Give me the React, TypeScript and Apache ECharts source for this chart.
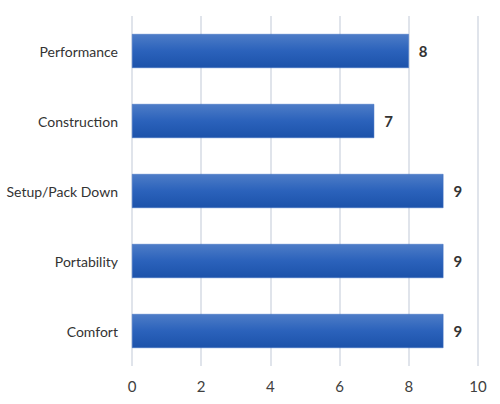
import React, { useEffect, useRef } from 'react';
import * as echarts from 'echarts';

const categories = ['Comfort', 'Portability', 'Setup/Pack Down', 'Construction', 'Performance'];
const scores = [9, 9, 9, 7, 8];
const axisTicks = [0, 2, 4, 6, 8, 10];

function App() {
  const chartRef = useRef<HTMLDivElement | null>(null);

  useEffect(() => {
    if (!chartRef.current) return undefined;
    const chart = echarts.init(chartRef.current, null, { renderer: 'svg' });

    const barColor = new echarts.graphic.LinearGradient(0, 0, 0, 1, [
      { offset: 0, color: '#4d7cc7' },
      { offset: 0.5, color: '#2b62bb' },
      { offset: 1, color: '#1c52aa' },
    ]);

    chart.setOption({
      animation: false,
      textStyle: { fontFamily: 'Lato, "Open Sans", sans-serif' },
      grid: { left: 132, right: 22, top: 16, bottom: 38, containLabel: false },
      xAxis: {
        type: 'value',
        min: axisTicks[0],
        max: axisTicks[axisTicks.length - 1],
        interval: 2,
        axisLine: { show: false },
        axisTick: { show: false },
        axisLabel: { color: '#404040', fontSize: 15, margin: 12 },
        splitLine: { show: true, lineStyle: { color: '#d6dbe5', width: 1.5 } },
      },
      yAxis: {
        type: 'category',
        data: categories,
        axisLine: { show: false },
        axisTick: { show: false },
        axisLabel: { color: '#333333', fontSize: 14, margin: 14 },
      },
      series: [
        {
          type: 'bar',
          data: scores,
          barWidth: 34,
          itemStyle: { color: barColor, borderColor: '#3a6cc0', borderWidth: 0.5 },
          label: {
            show: true,
            position: 'right',
            distance: 10,
            color: '#333333',
            fontSize: 15,
            fontWeight: 'bold',
          },
        },
      ],
    });

    return () => {
      chart.dispose();
    };
  }, []);

  return (
    <div
      ref={chartRef}
      style={{ position: 'absolute', left: 0, top: 0, width: '500px', height: '404px', background: '#ffffff' }}
    />
  );
}

export default App;
